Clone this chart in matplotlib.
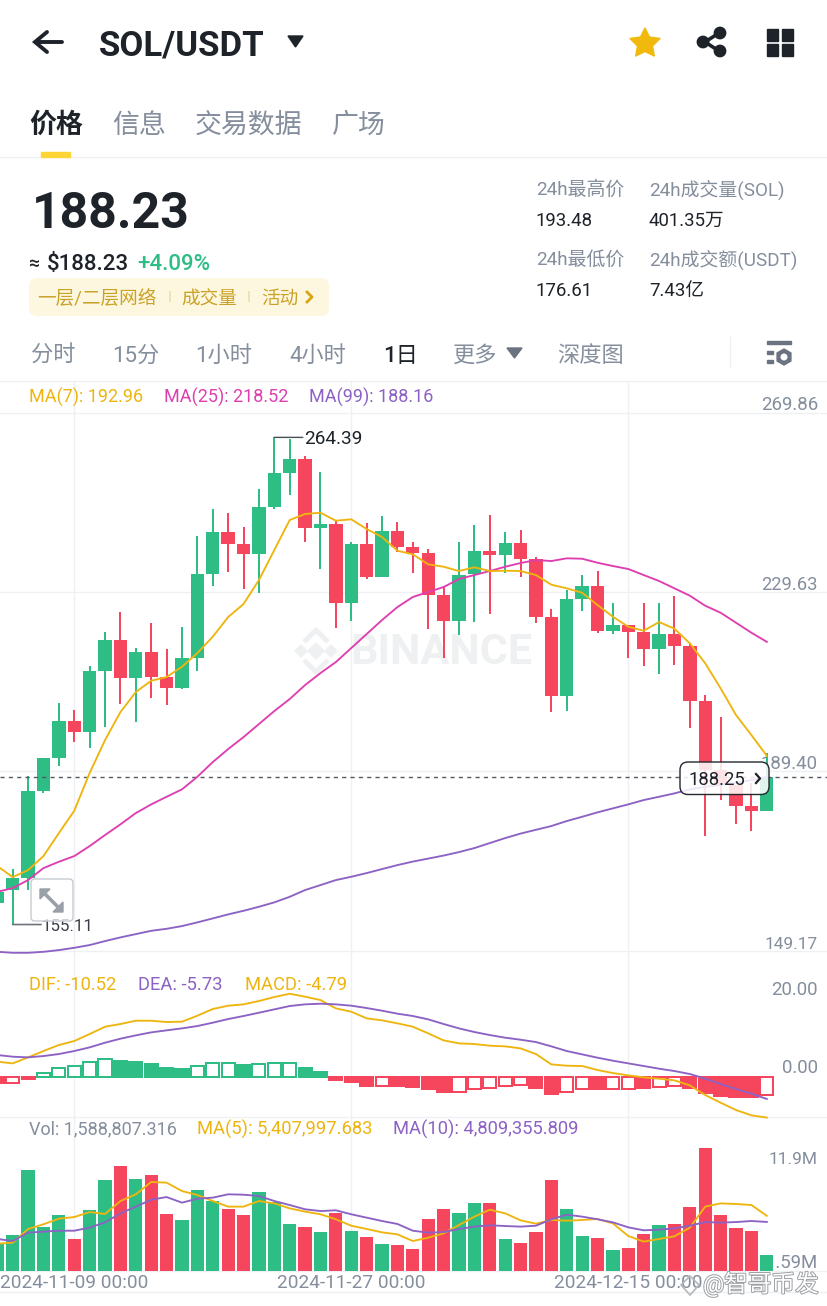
import matplotlib
matplotlib.use("Agg")
import matplotlib.pyplot as plt
from matplotlib.patches import FancyBboxPatch, Polygon, Circle, Rectangle, RegularPolygon
import matplotlib.patheffects as pe
from matplotlib.ticker import FixedLocator, FixedFormatter

plt.rcParams['font.family'] = ['Roboto', 'Noto Sans CJK SC', 'DejaVu Sans']

W, H = 828, 1306
GREEN, RED = '#2EBD85', '#F6465D'
GOLD, PINK, PURPLE = '#EEB50F', '#DE3FB0', '#8C62C4'
GRAY, DARK, GRID = '#848E9C', '#1E2329', '#EFF0F4'

opens = [159.92,162.84,165.64,185.16,192.45,200.75,198.22,212.08,218.86,210.40,216.17,210.56,208.16,214.82,233.80,243.16,240.47,238.34,248.77,256.29,259.61,244.12,244.89,227.30,240.47,233.00,243.38,239.79,238.38,229.02,223.12,233.67,238.90,238.00,240.69,237.21,224.16,206.43,228.19,231.04,221.01,222.36,220.66,216.91,220.27,217.51,205.24,189.76,186.39,181.68,180.56]
highs = [167.32,167.55,188.41,192.45,204.72,203.22,213.09,220.79,225.14,217.07,222.68,216.91,221.78,242.26,248.32,247.36,244.35,252.88,264.39,263.96,260.21,256.62,245.70,240.85,245.11,246.68,245.34,240.98,239.28,230.75,240.85,244.66,246.91,243.09,243.54,237.62,225.95,230.15,233.44,234.48,227.30,222.36,227.30,227.30,228.73,218.19,206.59,201.72,186.39,186.84,193.48]
lows = [159.47,155.11,162.84,184.53,190.72,196.04,194.70,199.47,204.57,200.46,205.85,204.34,207.87,211.97,231.11,234.19,230.30,229.54,248.25,251.46,240.85,234.93,221.62,223.26,232.61,233.00,238.61,233.96,221.46,214.89,220.12,222.90,224.83,234.03,233.13,222.74,202.84,203.07,225.50,220.57,220.27,214.96,213.16,211.23,213.39,199.25,175.02,183.03,177.64,176.14,180.56]
closes = [162.45,165.64,185.16,192.45,200.75,198.22,212.08,218.86,210.40,216.17,210.69,208.16,214.82,233.80,243.16,240.47,238.34,248.77,256.29,259.61,244.12,244.89,227.30,240.47,233.00,243.38,239.79,238.38,229.09,223.12,233.51,238.90,238.00,240.69,237.21,224.16,206.43,228.19,231.04,221.01,222.36,220.79,216.91,220.27,217.65,205.24,189.76,186.39,181.68,180.56,188.23]

ma7 = [168.22,165.75,167.32,170.46,175.62,180.63,189.09,196.49,202.77,207.26,209.80,210.63,212.94,216.01,219.67,224.09,227.01,232.39,239.12,245.85,247.20,247.49,245.70,246.01,243.83,242.04,238.96,238.16,235.91,235.37,234.41,235.24,234.41,234.48,234.41,233.51,231.34,230.53,229.54,226.78,224.16,221.91,221.01,222.97,221.46,218.19,213.70,208.09,202.10,197.61,192.96]
ma25 = [162.45,163.28,165.08,167.77,169.19,170.46,172.71,175.18,177.58,180.11,182.06,183.77,185.43,188.26,191.55,194.47,197.16,200.08,203.00,205.69,208.83,211.52,213.99,217.13,220.27,223.42,226.33,228.58,229.70,230.82,232.61,233.51,234.41,235.37,236.20,236.88,236.65,237.26,237.17,236.27,235.53,234.86,233.51,232.17,230.53,228.87,226.62,225.05,222.81,220.57,218.52]
ma99 = [148.99,148.77,148.77,148.99,149.37,149.89,150.50,151.39,152.22,152.96,153.70,154.15,154.76,155.59,156.48,157.38,158.19,159.09,160.08,161.33,162.84,163.96,165.08,165.82,166.65,167.55,168.44,169.23,169.90,170.58,171.36,172.26,173.38,174.50,175.51,176.36,177.20,178.32,179.28,180.27,181.17,182.06,183.03,183.77,184.53,185.43,186.01,186.39,186.91,187.52,188.16]

dif = [3.86,3.43,4.98,6.61,8.15,9.18,10.98,12.87,13.56,14.41,14.41,14.07,14.16,15.70,17.42,18.28,18.62,19.48,20.51,21.36,20.59,19.73,17.59,16.73,15.02,14.50,13.73,12.87,11.15,9.35,8.58,8.41,7.98,7.81,7.29,5.83,3.17,2.83,2.75,1.72,0.94,0.34,-0.17,-0.51,-0.94,-2.23,-4.72,-6.69,-8.58,-9.95,-10.52]
dea = [5.58,5.15,4.98,5.32,5.83,6.61,7.55,8.75,9.78,10.64,11.41,11.93,12.44,13.04,13.90,14.84,15.62,16.47,17.33,18.19,18.62,18.79,18.62,18.28,17.67,16.99,16.22,15.62,14.76,13.56,12.44,11.50,10.72,10.04,9.52,8.92,7.81,6.61,5.75,4.89,4.12,3.43,2.75,2.06,1.46,0.69,-0.51,-1.89,-3.17,-4.38,-5.73]
hist = [-1.72,-1.72,-0.69,1.03,2.23,2.75,3.69,4.55,4.03,3.86,3.17,2.32,1.89,2.75,3.60,3.60,3.09,3.35,3.60,3.60,2.15,1.12,-0.86,-1.46,-2.32,-2.32,-2.32,-2.66,-3.26,-4.03,-4.03,-3.26,-2.92,-2.40,-2.23,-3.00,-4.46,-3.95,-3.17,-3.17,-3.09,-3.09,-2.83,-2.57,-2.49,-3.00,-4.12,-4.89,-5.32,-5.32,-4.79]
hollow_bars = [1,3,4,5,6,7,13,14,15,17,18,19,25,30,31,32,33,34,37,38,40,41,43,44,50]

vol = [2.61,3.50,9.90,4.31,5.52,3.17,5.98,8.95,10.29,9.02,9.44,5.56,4.97,7.97,6.90,6.11,5.52,7.75,6.73,4.58,4.28,3.86,5.72,3.89,3.30,2.61,2.55,2.16,5.07,6.05,5.72,6.63,6.63,3.14,2.71,3.82,8.89,6.11,3.40,3.24,2.06,2.22,3.59,4.51,4.61,6.31,12.06,5.49,4.18,3.95,1.59]
vol_ma5 = [2.68,2.78,4.12,4.58,5.13,5.29,5.78,5.59,6.86,7.52,8.73,8.66,7.84,7.45,6.86,6.31,6.31,6.86,6.63,6.14,5.82,5.56,5.07,4.44,4.12,3.79,3.59,2.94,3.27,3.69,4.51,5.33,6.01,5.65,4.97,4.64,5.00,4.93,5.00,5.10,4.67,3.43,2.88,3.14,3.40,4.25,6.31,6.63,6.57,6.47,5.41]
vol_ma10 = [3.14,2.94,3.76,3.86,3.95,3.95,4.25,4.77,5.65,6.31,6.99,7.25,6.70,7.09,7.19,7.52,7.48,7.35,6.86,6.47,6.05,5.88,5.95,5.56,5.23,4.90,4.61,3.95,3.76,3.82,4.12,4.35,4.48,4.41,4.35,4.44,5.07,5.52,5.33,5.07,4.77,4.28,3.99,4.05,4.18,4.44,4.80,4.74,4.80,4.90,4.81]

date_ticks = [5, 23, 41]
date_labels = ['2024-11-09 00:00', '2024-11-27 00:00', '2024-12-15 00:00']
price_ticks = [269.86, 229.63, 189.40, 149.17]
macd_ticks = [20.00, 0.00]
vol_tick_labels = [(11.9, '11.9M'), (1.59, '1.59M')]

fig = plt.figure(figsize=(W/100, H/100), dpi=100, facecolor='white')

def px_axes(top, bottom, zorder):
    ax = fig.add_axes([0, 1-bottom/H, 1, (bottom-top)/H], zorder=zorder)
    ax.patch.set_alpha(0)
    for s in ax.spines.values():
        s.set_visible(False)
    ax.tick_params(length=0)
    return ax

bg = px_axes(0, H, 0)
bg.set_xlim(0, W); bg.set_ylim(H, 0); bg.axis('off')

XPX0, XSTEP = -2.7, 15.39
xlim = ((0-XPX0)/XSTEP, (W-XPX0)/XSTEP)
n = len(closes)
xs = list(range(n))

ax_p = px_axes(413, 951, 1)
ax_p.set_xlim(*xlim); ax_p.set_ylim(149.17, 269.86)
ax_m = px_axes(952, 1118, 1)
ax_m.set_xlim(*xlim); ax_m.set_ylim((1076.7-1118)/3.885, (1076.7-952)/3.885)
ax_v = px_axes(1118, 1271, 1)
ax_v.set_xlim(*xlim); ax_v.set_ylim(0, 153/10.2)

ax_p.set_xticks([]); ax_p.set_yticks([])
ax_m.set_xticks([]); ax_m.set_yticks([])
ax_v.set_yticks([])
ax_v.xaxis.set_major_locator(FixedLocator(date_ticks))
ax_v.xaxis.set_major_formatter(FixedFormatter(date_labels))
ax_v.tick_params(axis='x', labelsize=13.7, labelcolor=GRAY, pad=2.5)

for t in date_ticks:
    xp = XPX0 + XSTEP*t
    bg.plot([xp, xp], [381, 1271], color=GRID, lw=1.0)
for yp in [157, 381, 413, 592, 771, 951, 1117, 1271, 1292]:
    bg.plot([0, W], [yp, yp], color=GRID, lw=1.0)

wm = '#EEF0F1'
bg.add_patch(Polygon([(316,643),(324,651),(316,659),(308,651)], color=wm))
bg.add_patch(Polygon([(301,645),(307,651),(301,657),(295,651)], color=wm))
bg.add_patch(Polygon([(331,645),(337,651),(331,657),(325,651)], color=wm))
bg.plot([304,316,328],[642,630,642], color=wm, lw=3.6, solid_capstyle='butt')
bg.plot([304,316,328],[660,672,660], color=wm, lw=3.6, solid_capstyle='butt')
bg.text(441.5, 652, 'BINANCE', fontsize=31, fontweight='bold', color=wm, ha='center', va='center')

def T(ax, x, y, s, size, color=GRAY, ha='left', weight='normal', **kw):
    return ax.text(x, y, s, fontsize=size, color=color, ha=ha, va='center', fontweight=weight, **kw)

AS = 13.4
for v, sz, dy in zip(price_ticks, [13.4, 13.2, 13.4, 12.4], [-7.5, -7.5, -7.5, -6.5]):
    yp = 413 + (269.86-v)*4.457
    T(bg, 818, yp+dy, f'{v:.2f}', sz, ha='right')
T(bg, 818, 990, f'{macd_ticks[0]:.2f}', AS, ha='right')
T(bg, 818, 1068, f'{macd_ticks[1]:.2f}', AS, ha='right')
T(bg, 818, 1160, vol_tick_labels[0][1], 12.5, ha='right')
T(bg, 818, 1263, vol_tick_labels[1][1], AS, ha='right')

col = [GREEN if c >= o else RED for o, c in zip(opens, closes)]
PX = 0.72
ax_p.vlines(xs, lows, highs, colors=col, lw=2*PX, zorder=2)
ax_p.bar(xs, [max(abs(c-o), 0.4) for o, c in zip(opens, closes)],
         bottom=[min(o, c) for o, c in zip(opens, closes)], width=0.865, color=col, zorder=3)
ax_p.axhline(188.25, color='#555B63', lw=1.0, dashes=(3, 3), zorder=4)
for series, c in [(ma99, PURPLE), (ma25, PINK), (ma7, GOLD)]:
    ax_p.plot(xs, series, color=c, lw=1.35, zorder=5, solid_joinstyle='round', clip_on=False)

# high / low flags
i_hi = highs.index(max(highs)); i_lo = lows.index(min(lows))
ax_p.annotate('', xy=(i_hi, highs[i_hi]), xytext=(20.5, 0), textcoords='offset points',
              arrowprops=dict(arrowstyle='-', color='#4A4F57', lw=1.0, shrinkA=0, shrinkB=0), zorder=6)
ax_p.annotate(f'{highs[i_hi]:.2f}', xy=(i_hi, highs[i_hi]), xytext=(21.5, -1.0), textcoords='offset points',
              fontsize=13.7, color=DARK, va='center', ha='left', zorder=6)
ax_p.annotate('', xy=(i_lo, lows[i_lo]), xytext=(20.5, 0), textcoords='offset points',
              arrowprops=dict(arrowstyle='-', color='#6E737A', lw=1.2, shrinkA=0, shrinkB=0), zorder=6)
ax_p.annotate(f'{lows[i_lo]:.2f}', xy=(i_lo, lows[i_lo]), xytext=(21, -1.6), textcoords='offset points',
              fontsize=12.2, color='#3A3F47', va='center', ha='left', annotation_clip=False, zorder=6)

hcol = [GREEN if h >= 0 else RED for h in hist]
face = ['white' if i in hollow_bars else hcol[i] for i in range(n)]
ax_m.bar(xs, hist, width=0.85, color=face, edgecolor=hcol, linewidth=2*PX, zorder=2)
ax_m.plot(xs, dif, color=GOLD, lw=1.35, zorder=3, clip_on=False)
ax_m.plot(xs, dea, color=PURPLE, lw=1.35, zorder=3, clip_on=False)

ax_v.bar(xs, vol, width=0.86, color=col, zorder=2)
ax_v.plot(xs, vol_ma5, color=GOLD, lw=1.35, zorder=3)
ax_v.plot(xs, vol_ma10, color=PURPLE, lw=1.35, zorder=3)

ov = px_axes(0, H, 3)
ov.set_xlim(0, W); ov.set_ylim(H, 0); ov.axis('off')

LS = 13.2
T(ov, 29, 397.5, 'MA(7): 192.96', 13.0, GOLD)
T(ov, 164, 397.5, 'MA(25): 218.52', 13.0, PINK)
T(ov, 309, 397.5, 'MA(99): 188.16', 13.0, PURPLE)
T(ov, 29, 985.5, 'DIF: -10.52', LS, GOLD)
T(ov, 138, 985.5, 'DEA: -5.73', LS, PURPLE)
T(ov, 245, 985.5, 'MACD: -4.79', LS, GOLD)
T(ov, 29, 1129, 'Vol: 1,588,807.316', 13.0, GRAY)
T(ov, 197, 1129, 'MA(5): 5,407,997.683', LS, GOLD)
T(ov, 393, 1129, 'MA(10): 4,809,355.809', LS, PURPLE)

ov.plot([36, 62], [42, 42], color=DARK, lw=2.8, solid_capstyle='round')
ov.plot([47, 35, 47], [32, 42, 52], color=DARK, lw=2.8, solid_capstyle='round', solid_joinstyle='miter')
T(ov, 99, 45.5, 'SOL/USDT', 25, DARK, weight='bold')
ov.add_patch(Polygon([(288,36),(303,36),(295.5,47)], color=DARK))
star = [(645,28),(649.5,37),(660,38.5),(652.5,46),(654.3,56),(645,51.5),(635.7,56),(637.5,46),(630,38.5),(640.5,37)]
ov.add_patch(Polygon(star, color='#F0B90B', joinstyle='round'))
ov.plot([719,705,719],[33,42,51], color=DARK, lw=2.6)
for c in [(720,33),(703,42),(720,51)]:
    ov.add_patch(Circle(c, 5.7, color=DARK))
for x0, y0 in [(767,29),(782,29),(767,44),(782,44)]:
    ov.add_patch(Rectangle((x0,y0), 11.5, 11.5, color=DARK))

T(ov, 29, 125, '价格', 19.4, DARK, weight='bold')
T(ov, 112, 125, '信息', 19.4, GRAY, weight='medium')
T(ov, 195, 125, '交易数据', 19.4, GRAY, weight='medium')
T(ov, 332, 125, '广场', 19.4, GRAY, weight='medium')
ov.add_patch(Rectangle((41,152), 29, 5, color='#FCD535'))

T(ov, 32, 214, '188.23', 36, DARK, weight='bold')
T(ov, 29, 264, '≈', 14, DARK, weight='medium')
T(ov, 47, 264, '$188.23', 16, DARK, weight='medium')
T(ov, 137, 264, '+4.09%', 16, GREEN, weight='medium')
ov.add_patch(FancyBboxPatch((35,284), 288, 26, boxstyle='round,pad=6,rounding_size=8', fc='#FEF7E0', ec='none'))
PG = '#C9A227'
T(ov, 37, 299, '一层/二层网络', 13.4, PG)
T(ov, 181, 299, '成交量', 13.4, PG)
T(ov, 261, 299, '活动', 13.4, PG)
ov.plot([170,170],[292,301], color='#EBDDB0', lw=1.2)
ov.plot([249,249],[292,301], color='#EBDDB0', lw=1.2)
ov.plot([307,312,307],[292,297,302], color='#D9A514', lw=2.0)

TS = 13.6
T(ov, 536, 190, '24h最高价', TS)
T(ov, 649, 190, '24h成交量(SOL)', TS)
T(ov, 536, 221, '193.48', 13.4, DARK)
T(ov, 649, 221, '401.35万', 13.4, DARK)
T(ov, 536, 260, '24h最低价', TS)
T(ov, 649, 260, '24h成交额(USDT)', TS)
T(ov, 536, 291, '176.61', 13.4, DARK)
T(ov, 649, 291, '7.43亿', 13.4, DARK)

IS = 16
T(ov, 31, 356.5, '分时', IS)
T(ov, 112, 356.5, '15分', IS)
T(ov, 195, 356.5, '1小时', IS)
T(ov, 289, 356.5, '4小时', IS)
T(ov, 383, 356.5, '1日', IS, DARK, weight='medium')
T(ov, 453, 356.5, '更多', IS)
ov.add_patch(Polygon([(507,348),(522,348),(514.5,358)], color='#6B7280'))
T(ov, 557, 356.5, '深度图', IS)
ov.plot([730,730],[337,367], color=GRID, lw=1.0)
SET = '#6B7280'
ov.add_patch(Rectangle((767,341), 24, 3.2, color=SET))
ov.add_patch(Rectangle((767,351), 6, 3.2, color=SET))
ov.add_patch(Rectangle((767,360), 6, 3.2, color=SET))
ov.add_patch(RegularPolygon((784,357), 6, radius=8, color=SET))
ov.add_patch(Circle((784,357), 2.8, color='white'))

ov.add_patch(FancyBboxPatch((33,881), 38, 38, boxstyle='round,pad=2,rounding_size=4', fc=(1,1,1,0.75), ec='#C6CAD0', lw=1.0))
IC = '#9AA0A8'
ov.plot([44,59],[893,908], color=IC, lw=2.6)
ov.add_patch(Polygon([(40,889),(50,889),(40,899)], color=IC))
ov.add_patch(Polygon([(63,912),(53,912),(63,902)], color=IC))

ov.add_patch(FancyBboxPatch((684,766), 81, 24.5, boxstyle='round,pad=4,rounding_size=8', fc=(1,1,1,0.85), ec='#23272E', lw=1.0))
T(ov, 717, 780, '188.25', 13.3, DARK, ha='center')
ov.plot([756,760,756],[774,778.5,783], color=DARK, lw=1.6)

ov.add_patch(Polygon([(690,1276),(699,1285),(690,1295),(681,1285)], fc='none', ec='#B5B8BC', lw=1.2))
T(ov, 703, 1284, '@智哥币发', 17, 'white', path_effects=[pe.withStroke(linewidth=1.4, foreground='#9C9FA3')])

fig.savefig('out.png', dpi=100, facecolor='white')
